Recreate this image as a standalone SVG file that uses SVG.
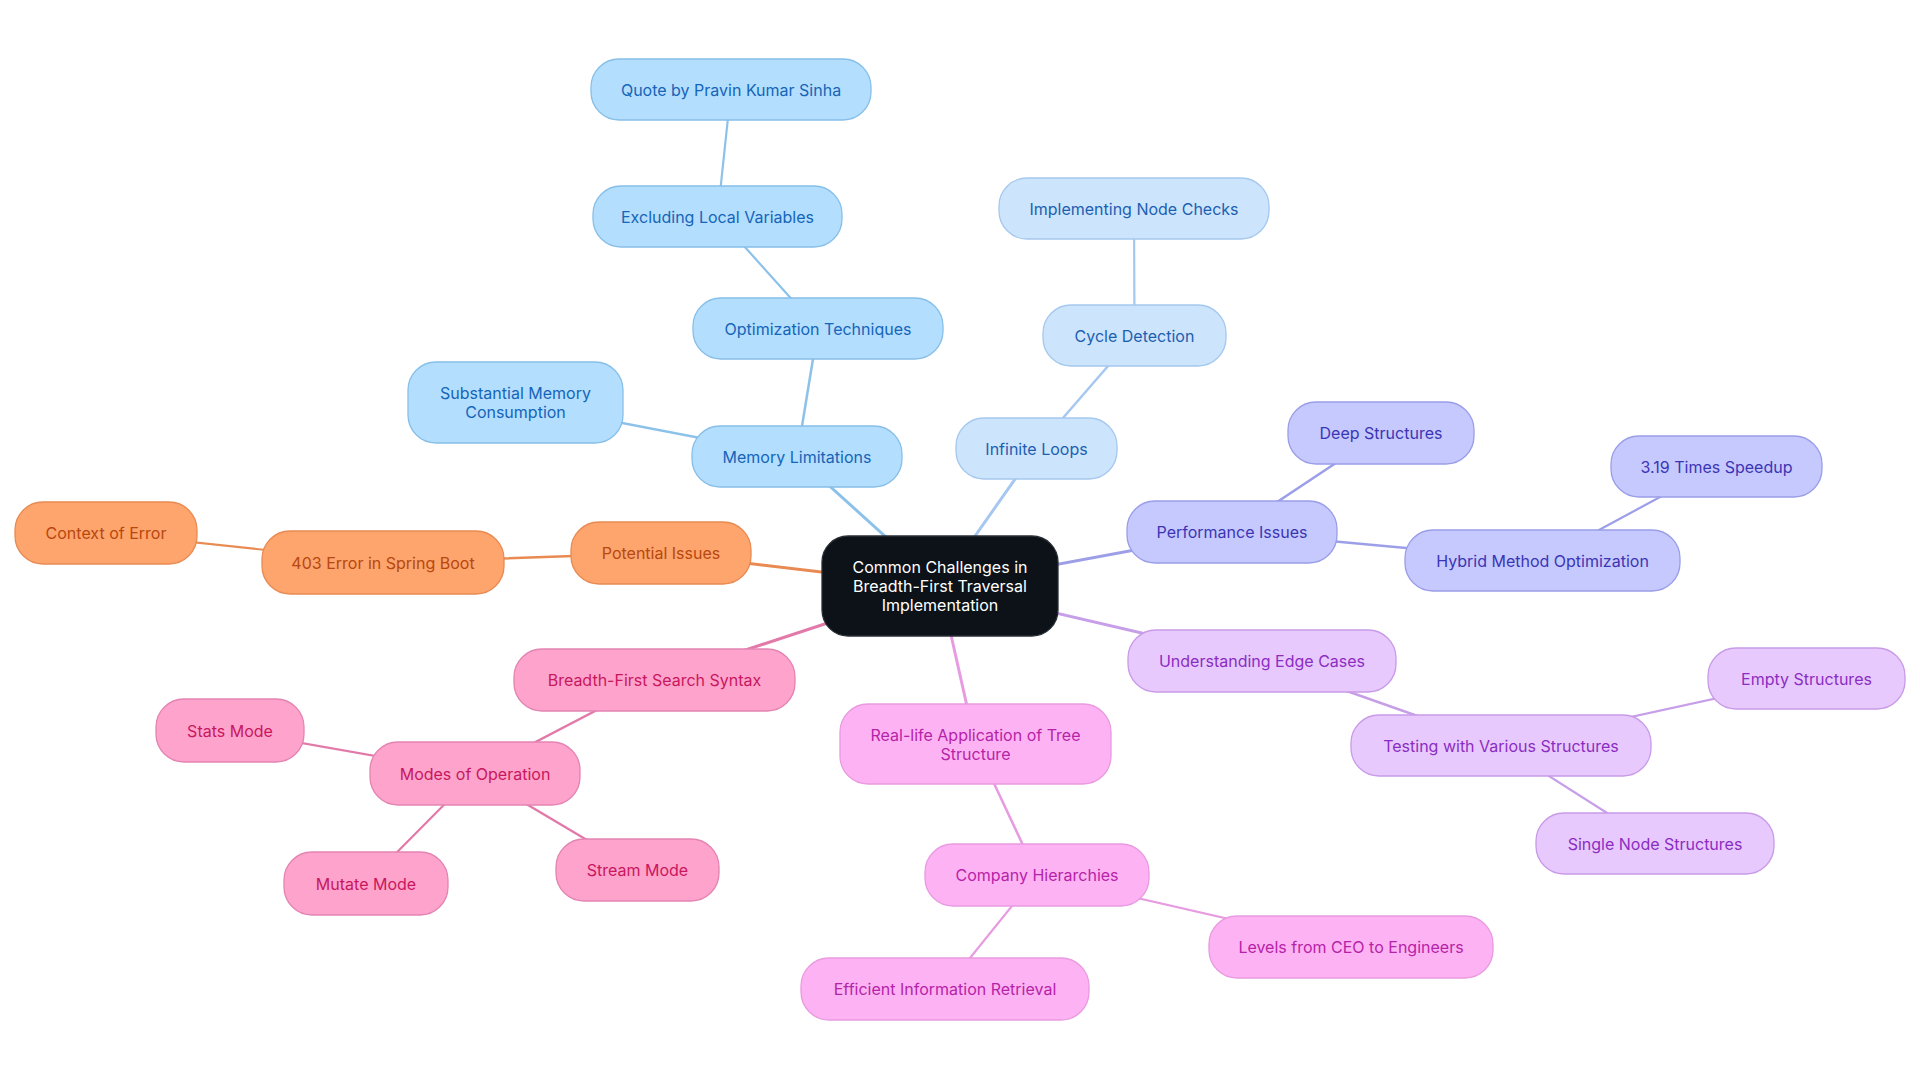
<svg xmlns="http://www.w3.org/2000/svg" width="1920" height="1083" viewBox="0 0 1920 1083">
<style>
text{font-family:Inter,"Noto Sans","Liberation Sans",sans-serif;font-size:16px;text-anchor:middle;dominant-baseline:central}
rect{stroke-width:1.3}
.c rect{fill:#0c1218;stroke:#2a2f35}.c text{fill:#ffffff}
.b rect{fill:#b4defe;stroke:#87bfe8}.b text{fill:#1565b8}
.lb rect{fill:#cde4fd;stroke:#a5c8ee}.lb text{fill:#1c5fb0}
.lv rect{fill:#c6c9fd;stroke:#9a9de8}.lv text{fill:#3b35b5}
.pu rect{fill:#e8c9fd;stroke:#c89ae8}.pu text{fill:#8b2dc2}
.mg rect{fill:#fdb3f3;stroke:#e99ae0}.mg text{fill:#b523a8}
.pk rect{fill:#fea3cc;stroke:#e384b2}.pk text{fill:#c8175e}
.or rect{fill:#fea46d;stroke:#e88a52}.or text{fill:#b7480e}
#edges line{fill:none;stroke-linecap:round}
.eb{stroke:#8cc2ea}.elb{stroke:#a6c8f0}.elv{stroke:#9c9fe8}.epu{stroke:#c79ee8}.emg{stroke:#e79be0}.epk{stroke:#e27aa9}.eor{stroke:#e88a52}
.l1{stroke-width:3}.l2{stroke-width:2.5}.l3{stroke-width:2.2}
</style>
<rect width="1920" height="1083" fill="#ffffff" stroke="none"/>
<g id="edges">
<line class="eb l1" x1="940" y1="586" x2="797" y2="456.5"/>
<line class="eb l2" x1="797" y1="456.5" x2="818" y2="328.5"/>
<line class="eb l2" x1="797" y1="456.5" x2="515.5" y2="402.5"/>
<line class="eb l3" x1="818" y1="328.5" x2="717.5" y2="216.5"/>
<line class="eb l3" x1="717.5" y1="216.5" x2="731" y2="89.5"/>
<line class="elb l1" x1="940" y1="586" x2="1036.5" y2="448.5"/>
<line class="elb l2" x1="1036.5" y1="448.5" x2="1134.5" y2="335.5"/>
<line class="elb l3" x1="1134.5" y1="335.5" x2="1134" y2="208.5"/>
<line class="elv l1" x1="940" y1="586" x2="1232" y2="532"/>
<line class="elv l2" x1="1232" y1="532" x2="1381" y2="433"/>
<line class="elv l2" x1="1232" y1="532" x2="1542.5" y2="560.5"/>
<line class="elv l3" x1="1542.5" y1="560.5" x2="1716.5" y2="466.5"/>
<line class="epu l1" x1="940" y1="586" x2="1262" y2="661"/>
<line class="epu l2" x1="1262" y1="661" x2="1501" y2="745.5"/>
<line class="epu l3" x1="1501" y1="745.5" x2="1806.5" y2="678.5"/>
<line class="epu l3" x1="1501" y1="745.5" x2="1655" y2="843.5"/>
<line class="emg l1" x1="940" y1="586" x2="975.5" y2="744"/>
<line class="emg l2" x1="975.5" y1="744" x2="1037" y2="875"/>
<line class="emg l3" x1="1037" y1="875" x2="1351" y2="947"/>
<line class="emg l3" x1="1037" y1="875" x2="945" y2="989"/>
<line class="epk l1" x1="940" y1="586" x2="654.5" y2="680"/>
<line class="epk l2" x1="654.5" y1="680" x2="475" y2="773.5"/>
<line class="epk l3" x1="475" y1="773.5" x2="230" y2="730.5"/>
<line class="epk l3" x1="475" y1="773.5" x2="366" y2="883.5"/>
<line class="epk l3" x1="475" y1="773.5" x2="637.5" y2="870"/>
<line class="eor l1" x1="940" y1="586" x2="661" y2="553"/>
<line class="eor l2" x1="661" y1="553" x2="383" y2="562.5"/>
<line class="eor l3" x1="383" y1="562.5" x2="106" y2="533"/>
</g>
<g id="root" class="c"><rect x="822" y="536" width="236" height="100" rx="26"/><text x="940" y="567">Common Challenges in</text><text x="940" y="586">Breadth-First Traversal</text><text x="940" y="605">Implementation</text></g>
<g id="memory-limitations" class="b"><rect x="692" y="426" width="210" height="61" rx="28"/><text x="797" y="456.5">Memory Limitations</text></g>
<g id="optimization-techniques" class="b"><rect x="693" y="298" width="250" height="61" rx="28"/><text x="818" y="328.5">Optimization Techniques</text></g>
<g id="excluding-local-variables" class="b"><rect x="593" y="186" width="249" height="61" rx="28"/><text x="717.5" y="216.5">Excluding Local Variables</text></g>
<g id="quote" class="b"><rect x="591" y="59" width="280" height="61" rx="28"/><text x="731" y="89.5">Quote by Pravin Kumar Sinha</text></g>
<g id="substantial-memory" class="b"><rect x="408" y="362" width="215" height="81" rx="28"/><text x="515.5" y="393">Substantial Memory</text><text x="515.5" y="412">Consumption</text></g>
<g id="infinite-loops" class="lb"><rect x="956" y="418" width="161" height="61" rx="28"/><text x="1036.5" y="448.5">Infinite Loops</text></g>
<g id="cycle-detection" class="lb"><rect x="1043" y="305" width="183" height="61" rx="28"/><text x="1134.5" y="335.5">Cycle Detection</text></g>
<g id="implementing-node-checks" class="lb"><rect x="999" y="178" width="270" height="61" rx="28"/><text x="1134" y="208.5">Implementing Node Checks</text></g>
<g id="performance-issues" class="lv"><rect x="1127" y="501" width="210" height="62" rx="28"/><text x="1232" y="532">Performance Issues</text></g>
<g id="deep-structures" class="lv"><rect x="1288" y="402" width="186" height="62" rx="28"/><text x="1381" y="433">Deep Structures</text></g>
<g id="hybrid-method" class="lv"><rect x="1405" y="530" width="275" height="61" rx="28"/><text x="1542.5" y="560.5">Hybrid Method Optimization</text></g>
<g id="speedup" class="lv"><rect x="1611" y="436" width="211" height="61" rx="28"/><text x="1716.5" y="466.5">3.19 Times Speedup</text></g>
<g id="edge-cases" class="pu"><rect x="1128" y="630" width="268" height="62" rx="28"/><text x="1262" y="661">Understanding Edge Cases</text></g>
<g id="testing" class="pu"><rect x="1351" y="715" width="300" height="61" rx="28"/><text x="1501" y="745.5">Testing with Various Structures</text></g>
<g id="empty-structures" class="pu"><rect x="1708" y="648" width="197" height="61" rx="28"/><text x="1806.5" y="678.5">Empty Structures</text></g>
<g id="single-node" class="pu"><rect x="1536" y="813" width="238" height="61" rx="28"/><text x="1655" y="843.5">Single Node Structures</text></g>
<g id="real-life" class="mg"><rect x="840" y="704" width="271" height="80" rx="28"/><text x="975.5" y="734.5">Real-life Application of Tree</text><text x="975.5" y="753.5">Structure</text></g>
<g id="company-hierarchies" class="mg"><rect x="925" y="844" width="224" height="62" rx="28"/><text x="1037" y="875">Company Hierarchies</text></g>
<g id="levels" class="mg"><rect x="1209" y="916" width="284" height="62" rx="28"/><text x="1351" y="947">Levels from CEO to Engineers</text></g>
<g id="efficient-retrieval" class="mg"><rect x="801" y="958" width="288" height="62" rx="28"/><text x="945" y="989">Efficient Information Retrieval</text></g>
<g id="bfs-syntax" class="pk"><rect x="514" y="649" width="281" height="62" rx="28"/><text x="654.5" y="680">Breadth-First Search Syntax</text></g>
<g id="modes" class="pk"><rect x="370" y="742" width="210" height="63" rx="28"/><text x="475" y="773.5">Modes of Operation</text></g>
<g id="stats-mode" class="pk"><rect x="156" y="699" width="148" height="63" rx="28"/><text x="230" y="730.5">Stats Mode</text></g>
<g id="mutate-mode" class="pk"><rect x="284" y="852" width="164" height="63" rx="28"/><text x="366" y="883.5">Mutate Mode</text></g>
<g id="stream-mode" class="pk"><rect x="556" y="839" width="163" height="62" rx="28"/><text x="637.5" y="870">Stream Mode</text></g>
<g id="potential-issues" class="or"><rect x="571" y="522" width="180" height="62" rx="28"/><text x="661" y="553">Potential Issues</text></g>
<g id="error-403" class="or"><rect x="262" y="531" width="242" height="63" rx="28"/><text x="383" y="562.5">403 Error in Spring Boot</text></g>
<g id="context-of-error" class="or"><rect x="15" y="502" width="182" height="62" rx="28"/><text x="106" y="533">Context of Error</text></g>
</svg>
